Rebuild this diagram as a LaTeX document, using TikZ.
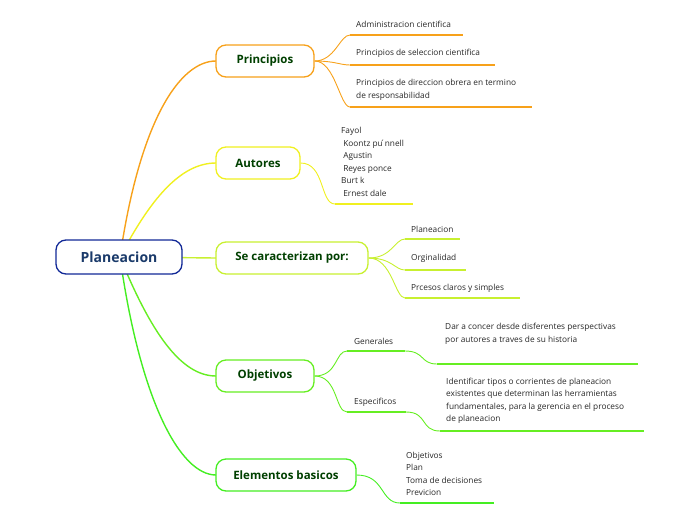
\documentclass[tikz,border=0pt]{standalone}
\usepackage{fontspec}
\setmainfont{Open Sans}
\begin{document}
\begin{tikzpicture}[x=1pt,y=-1pt,
  topic/.style={draw=#1,line width=1.3pt,rounded corners=10pt,minimum height=32pt,font=\bfseries\fontsize{11.5}{13}\selectfont,text=green!25!black,fill=white,inner xsep=8pt},
  leaf/.style={font=\fontsize{8.3}{12.5}\selectfont,text=black!85,anchor=west,align=left,inner sep=0pt},
  br/.style={draw=#1,line width=0.9pt},
  ul/.style={draw=#1,line width=2pt}]
\definecolor{cor}{HTML}{F7A11A}
\definecolor{cye}{HTML}{F0F020}
\definecolor{cyg}{HTML}{C8F030}
\definecolor{cg1}{HTML}{66EE22}
\definecolor{cg2}{HTML}{44EE22}
\definecolor{cnav}{HTML}{1A3A6A}
\useasboundingbox (0,0) rectangle (696,520);
\coordinate (c0) at (120,257);
\draw[br=cor,line width=1.4pt] (c0) .. controls (140,120) and (180,61) .. (216,61);
\draw[br=cye,line width=1.4pt] (c0) .. controls (150,200) and (180,163) .. (216,163);
\draw[br=cyg,line width=1.4pt] (c0) -- (216,258);
\draw[br=cg1,line width=1.4pt] (c0) .. controls (150,330) and (180,376) .. (216,376);
\draw[br=cg2,line width=1.4pt] (c0) .. controls (140,400) and (180,475) .. (216,475);
\node[draw=cnav!70!blue,line width=1.3pt,rounded corners=10pt,minimum width=126pt,minimum height=34pt,font=\bfseries\fontsize{14}{16}\selectfont,text=cnav,fill=white] (c) at (119,257) {Planeacion};
\node[topic=cor,minimum width=98pt] (p) at (265,61) {Principios};
\node[topic=cye,minimum width=84pt] (a) at (258,163) {Autores};
\node[topic=cyg,minimum width=152pt] (s) at (292,258) {Se caracterizan por:};
\node[topic=cg1,minimum width=98pt] (o) at (265,376) {Objetivos};
\node[topic=cg2,minimum width=140pt] (e) at (286,475) {Elementos basicos};
\coordinate (p1) at (350,35); \coordinate (p2) at (350,65); \coordinate (p3) at (350,107);
\draw[br=cor] (p.east) .. controls (335,61) and (340,35) .. (p1);
\draw[br=cor] (p.east) .. controls (335,61) and (340,65) .. (p2);
\draw[br=cor] (p.east) .. controls (335,61) and (340,107) .. (p3);
\draw[ul=cor] (p1) -- (463,35); \draw[ul=cor] (p2) -- (495,65); \draw[ul=cor] (p3) -- (532,107);
\node[leaf] (pl1) at (356,24) {Administracion cientifica};
\node[leaf] (pl2) at (356,53) {Principios de seleccion cientifica};
\node[leaf] (pl3) at (356,90) {Principios de direccion obrera en termino\\de responsabilidad};
\coordinate (a1) at (335,204);
\draw[br=cye] (a.east) .. controls (325,163) and (320,204) .. (a1);
\draw[ul=cye] (a1) -- (413,204);
\node[leaf] (al) at (341,162) {Fayol\\\ Koontz pu\'{}nnell\\\ Agustin\\\ Reyes ponce\\Burt k\\\ Ernest dale};
\coordinate (s1) at (405,239); \coordinate (s2) at (405,270); \coordinate (s3) at (405,298);
\draw[br=cyg] (s.east) .. controls (392,258) and (395,239) .. (s1);
\draw[br=cyg] (s.east) .. controls (392,258) and (395,270) .. (s2);
\draw[br=cyg] (s.east) .. controls (392,258) and (395,298) .. (s3);
\draw[ul=cyg] (s1) -- (460,239); \draw[ul=cyg] (s2) -- (466,270); \draw[ul=cyg] (s3) -- (520,298);
\node[leaf] (sl1) at (411,229) {Planeacion};
\node[leaf] (sl2) at (411,258) {Orginalidad};
\node[leaf] (sl3) at (411,288) {Prcesos claros y simples};
\coordinate (g1) at (347,351); \coordinate (g2) at (405,351); \coordinate (g3) at (437,364);
\coordinate (h1) at (347,412); \coordinate (h2) at (406,412); \coordinate (h3) at (440,431);
\draw[br=cg1] (o.east) .. controls (338,376) and (335,351) .. (g1);
\draw[br=cg1] (o.east) .. controls (338,376) and (335,412) .. (h1);
\draw[ul=cg1] (g1) -- (g2); \draw[ul=cg1] (h1) -- (h2);
\draw[br=cg1] (g2) .. controls (425,351) and (420,364) .. (g3);
\draw[br=cg1] (h2) .. controls (428,412) and (420,431) .. (h3);
\draw[ul=cg1] (g3) -- (638,364); \draw[ul=cg1] (h3) -- (644,431);
\node[leaf] (ol1) at (354,341) {Generales};
\node[leaf] (ol2) at (354,402) {Especificos};
\node[leaf] (ol3) at (445,334) {Dar a concer desde disferentes perspectivas\\por autores a traves de su historia};
\node[leaf] (ol4) at (446,401) {Identificar tipos o corrientes de planeacion\\existentes que determinan las herramientas\\fundamentales, para la gerencia en el proceso\\de planeacion};
\coordinate (e1) at (400,503);
\draw[br=cg2] (e.east) .. controls (385,475) and (380,503) .. (e1);
\draw[ul=cg2] (e1) -- (494,503);
\node[leaf] (el) at (406,474) {Objetivos\\Plan\\Toma de decisiones\\Previcion};
\end{tikzpicture}
\end{document}
